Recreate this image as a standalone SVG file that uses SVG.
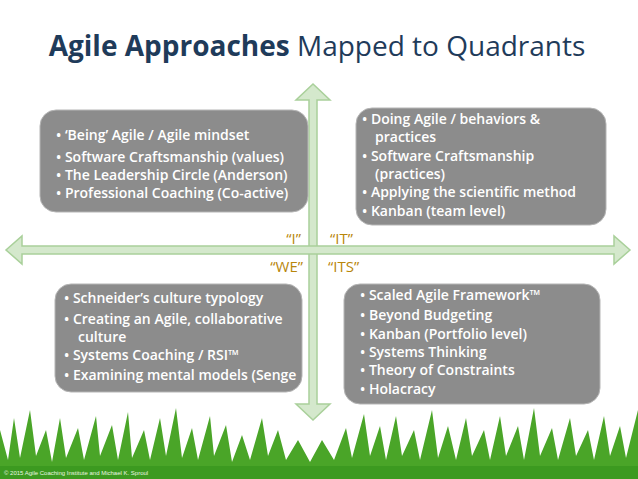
<svg xmlns="http://www.w3.org/2000/svg" width="638" height="479" viewBox="0 0 638 479">
<style>
.box{fill:#8c8c8c;stroke:#b5b5b5;stroke-width:1}
.t{font-family:"Open Sans","Liberation Sans",sans-serif;font-size:14px;fill:#fff;font-weight:600}
.q{font-family:"Open Sans","Liberation Sans",sans-serif;font-size:15px;fill:#b8860b}
.arr{fill:#d4e8cc;stroke:#a9d09a;stroke-width:1.5}
</style>
<rect width="638" height="479" fill="#fff"/>
<text x="317" y="56" text-anchor="middle" font-family="Open Sans,Liberation Sans,sans-serif" font-size="28" fill="#1f3b5a"><tspan font-weight="bold">Agile Approaches</tspan> Mapped to Quadrants</text>
<g id="connectors">
<polygon class="arr" points="309,100 296,100 313,84 330,100 317,100 317,404 330,404 313,420 296,404 309,404"/>
<polygon class="arr" points="22,246 22,236 6,250 22,264 22,254 614,254 614,264 630,250 614,236 614,246"/>
</g>
<g id="q1"><rect class="box" x="40" y="110" width="268" height="102" rx="16"/>
<text class="t" x="56" y="140">•  ‘Being’ Agile / Agile mindset</text>
<text class="t" x="56" y="162">•  Software Craftsmanship (values)</text>
<text class="t" x="56" y="180">•  The Leadership Circle (Anderson)</text>
<text class="t" x="56" y="198">•  Professional Coaching (Co-active)</text></g>
<g id="q2"><rect class="box" x="356" y="108" width="250" height="117" rx="16"/>
<text class="t" x="362" y="124">•  Doing Agile / behaviors &amp;</text>
<text class="t" x="375" y="142">practices</text>
<text class="t" x="362" y="161">•  Software Craftsmanship</text>
<text class="t" x="375" y="179">(practices)</text>
<text class="t" x="362" y="197">•  Applying the  scientific method</text>
<text class="t" x="362" y="216">•  Kanban (team level)</text></g>
<g id="labels">
<text class="q" x="301" y="244" text-anchor="end">“I”</text>
<text class="q" x="330" y="244">“IT”</text>
<text class="q" x="303" y="272" text-anchor="end">“WE”</text>
<text class="q" x="328" y="272">“ITS”</text></g>
<g id="q3"><rect class="box" x="55" y="284" width="247" height="108" rx="16"/>
<text class="t" x="64" y="303">•  Schneider’s culture typology</text>
<text class="t" x="64" y="324">•  Creating an Agile, collaborative</text>
<text class="t" x="78" y="342">culture</text>
<text class="t" x="64" y="360">•  Systems Coaching / RSI™</text>
<text class="t" x="64" y="380">•  Examining mental models (Senge</text></g>
<g id="q4"><rect class="box" x="344" y="284" width="256" height="120" rx="16"/>
<text class="t" x="360" y="300">•  Scaled Agile Framework™</text>
<text class="t" x="360" y="320">•  Beyond Budgeting</text>
<text class="t" x="360" y="339">•  Kanban (Portfolio level)</text>
<text class="t" x="360" y="357">•  Systems Thinking</text>
<text class="t" x="360" y="375">•  Theory of Constraints</text>
<text class="t" x="360" y="394">•  Holacracy</text></g>
<g id="grass">
<polygon fill="#4aa528" points="0,479 0,430 8,460 14,418 20,458 30,410 36,456 46,430 52,462 60,418 66,458 78,428 84,460 96,416 100,456 112,425 118,460 128,412 132,458 144,430 150,460 160,418 166,456 176,408 182,458 192,428 198,460 210,416 214,456 226,425 232,462 242,435 250,460 262,418 268,456 278,430 286,460 298,440 310,462 322,440 334,460 346,428 352,458 364,414 370,456 380,426 386,460 396,416 402,456 414,430 420,460 432,410 438,458 448,426 456,460 466,418 472,456 484,430 490,460 500,416 506,456 518,426 524,460 534,408 540,456 552,428 558,460 570,418 576,456 588,430 594,460 604,416 610,456 620,426 626,458 638,410 638,479"/>
<rect x="0" y="466" width="638" height="13" fill="#3c9a20"/>
</g>
<text x="4" y="475" font-family="Liberation Sans,sans-serif" font-size="6" fill="#e8f5e0">© 2015 Agile Coaching Institute and Michael K. Sproul</text>
</svg>
